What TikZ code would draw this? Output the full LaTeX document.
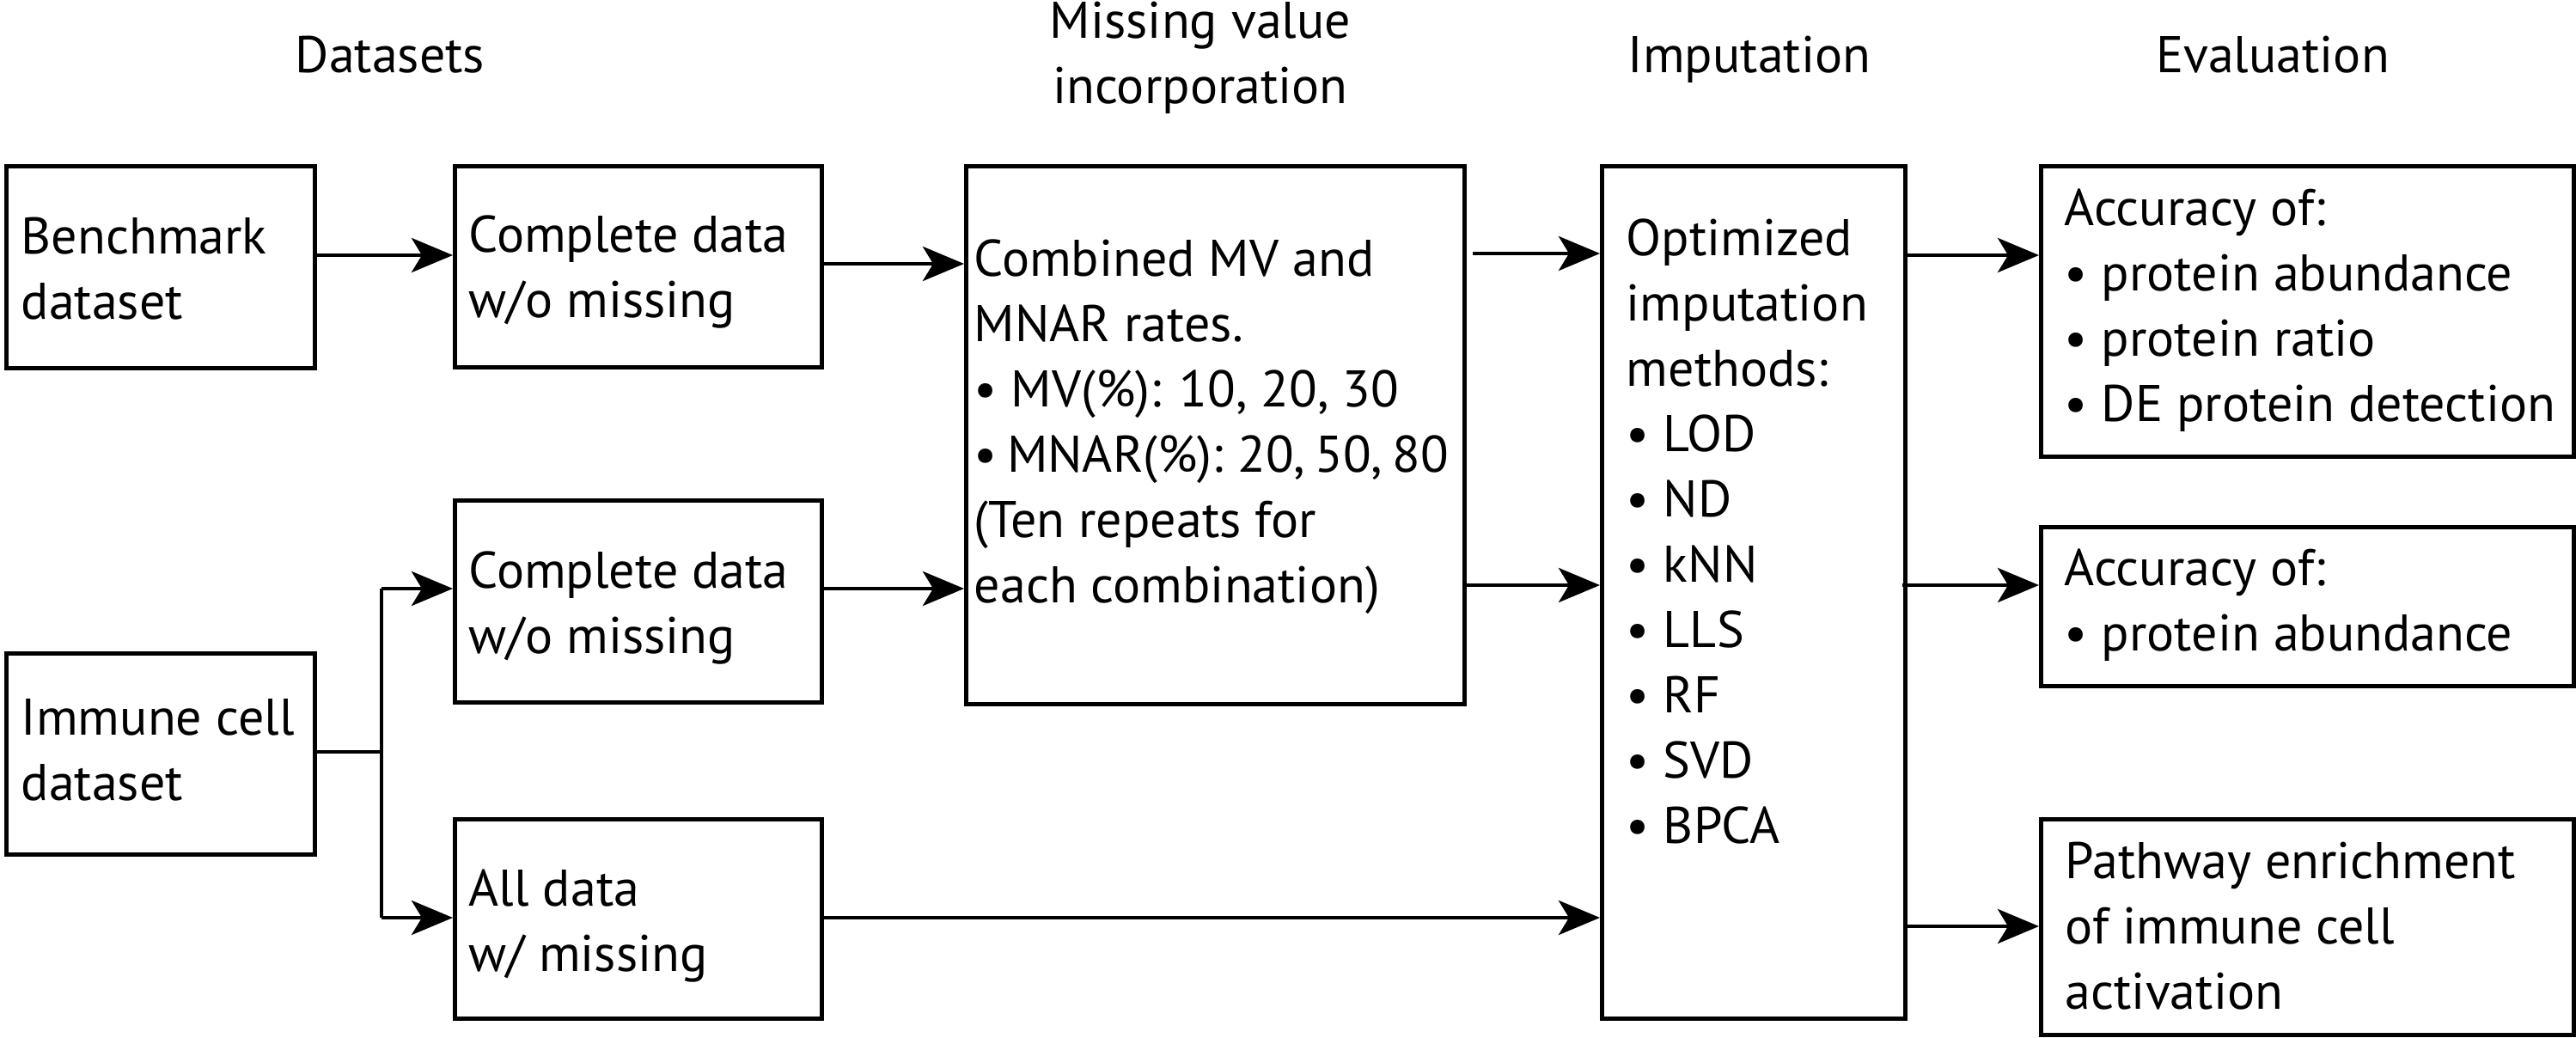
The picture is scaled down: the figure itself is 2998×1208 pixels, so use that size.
\documentclass[tikz,border=0pt]{standalone}
\usepackage{fontspec}
\setmainfont{PT Sans}
\usetikzlibrary{arrows.meta}
\begin{document}
\begin{tikzpicture}[x=0.25pt,y=-0.25pt,
  box/.style={draw=black, line width=1.2pt, rectangle, inner sep=0pt, anchor=north west},
  txt/.style={inner sep=0pt, align=left, anchor=base west, font=\fontsize{15pt}{19pt}\selectfont},
  head/.style={inner sep=0pt, align=center, anchor=base, font=\fontsize{15pt}{19pt}\selectfont},
  arr/.style={line width=1.2pt, -{Stealth[length=12pt,width=10pt,inset=3pt]}},
  ln/.style={line width=1.2pt}]
\useasboundingbox (0,0) rectangle (2998,1208);
\newcommand{\mybox}[5]{\node[box, minimum width={(#4-#2)*0.25pt}, minimum height={(#5-#3)*0.25pt}] (#1) at (#2,#3) {};}
\mybox{bench}{5}{191}{364}{426}
\mybox{compa}{527}{191}{954}{425}
\mybox{mv}{1122}{191}{1702}{817}
\mybox{imp}{1862}{191}{2215}{1183}
\mybox{eva}{2373}{191}{2993}{529}
\mybox{evb}{2373}{611}{2993}{796}
\mybox{evc}{2373}{951}{2993}{1202}
\mybox{compb}{527}{580}{954}{815}
\mybox{alld}{527}{951}{954}{1183}
\mybox{imm}{5}{758}{364}{992}
% headers (anchor = baseline of last line)
\node[head] (h1) at (454,85) {Datasets};
\node[head] (h2) at (1397,121) {Missing value\\incorporation};
\node[head] (h3) at (2036,85) {Imputation};
\node[head] (h4) at (2645,85) {Evaluation};
% texts (anchor = baseline of last line)
\node[txt] (tbench) at (24,372) {Benchmark\\dataset};
\node[txt] (tcompa) at (545,370) {Complete data\\w/o missing};
\node[txt] (tcompb) at (545,760) {Complete data\\w/o missing};
\node[txt] (talld) at (545,1130) {All data\\w/ missing};
\node[txt] (timm) at (24,931) {Immune cell\\dataset};
\node[txt] (tmv) at (1133,701) {Combined MV and\\MNAR rates.\\• MV(\%): 10, 20, 30\\{\spaceskip=2.8pt • MNAR(\%): 20, 50, 80}\\(Ten repeats for\\each combination)};
\node[txt] (timp) at (1892,981) {Optimized\\imputation\\methods:\\• LOD\\• ND\\• kNN\\• LLS\\• RF\\• SVD\\• BPCA};
\node[txt] (teva) at (2402,491) {Accuracy of:\\• protein abundance\\• protein ratio\\• DE protein detection};
\node[txt] (tevb) at (2402,757) {Accuracy of:\\• protein abundance};
\node[txt] (tevc) at (2403,1174) {Pathway enrichment\\of immune cell\\activation};
% connectors
\coordinate (br) at (444,875);
\draw[arr] (bench.east |- 0,297) -- (compa.west |- 0,297);
\draw[arr] (compa.east |- 0,307) -- (mv.west |- 0,307);
\draw[arr, shorten <=1.75pt] (mv.east |- 0,295) -- (imp.west |- 0,295);
\draw[arr] (compb.east |- 0,685) -- (mv.west |- 0,685);
\draw[arr] (mv.east |- 0,681) -- (imp.west |- 0,681);
\draw[arr] (alld.east |- 0,1068) -- (imp.west |- 0,1068);
\draw[ln] (imm.east |- br) -- (br);
\draw[ln] (br |- 0,685) -- (br |- 0,1068);
\draw[arr] (br |- 0,685) -- (compb.west |- 0,685);
\draw[arr] (br |- 0,1068) -- (alld.west |- 0,1068);
\draw[arr] (imp.east |- 0,297) -- (eva.west |- 0,297);
\draw[arr, shorten <=-1.5pt] (imp.east |- 0,681) -- (evb.west |- 0,681);
\draw[arr] (imp.east |- 0,1078) -- (evc.west |- 0,1078);
\end{tikzpicture}
\end{document}
